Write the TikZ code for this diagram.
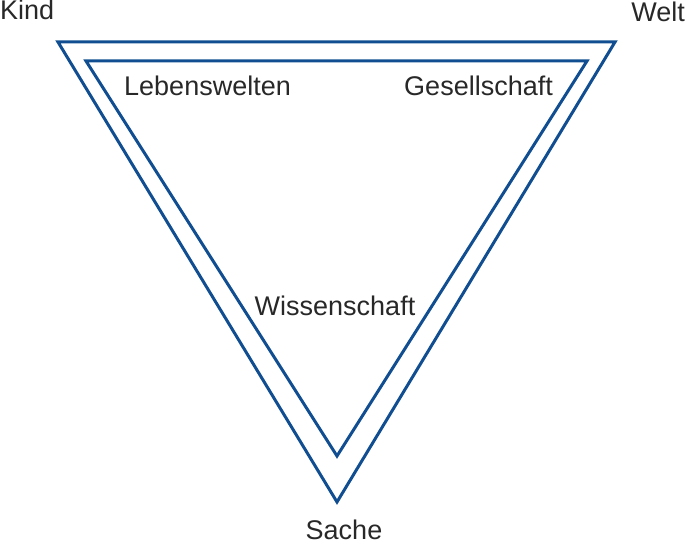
\documentclass[tikz,border=0pt]{standalone}
\usepackage{fontspec}
\setmainfont{Liberation Sans}
\definecolor{tri}{RGB}{16,78,145}
\definecolor{txt}{RGB}{40,40,40}
\begin{document}
\begin{tikzpicture}[x=1pt,y=-1pt,
  lbl/.style={font=\fontsize{27}{31}\selectfont, text=txt, inner sep=0pt},
  edge/.style={draw=tri, line width=3pt, line join=miter}]
\useasboundingbox (0,0) rectangle (685,545);
\coordinate (o1) at (58,42);
\coordinate (o2) at (615,42);
\coordinate (o3) at (337,502);
\coordinate (i1) at (86,61);
\coordinate (i2) at (587,61);
\coordinate (i3) at (337,456);
\draw[edge] (o1) -- (o2) -- (o3) -- cycle;
\draw[edge] (i1) -- (i2) -- (i3) -- cycle;
\node[lbl, anchor=base west] (kind) at (0,20) {Kind};
\node[lbl, anchor=base east] (welt) at (685,22) {Welt};
\node[lbl, anchor=base west] (leb) at (124,96) {Lebenswelten};
\node[lbl, anchor=base east] (ges) at (553,96) {Gesellschaft};
\node[lbl, anchor=base] (wis) at (335,315) {Wissenschaft};
\node[lbl, anchor=base, text depth=0pt] (sac) at (344,539) {Sache};
\end{tikzpicture}
\end{document}
